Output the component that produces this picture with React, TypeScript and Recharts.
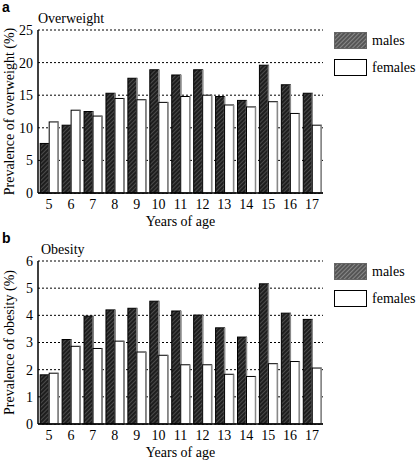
import React from 'react';
import { BarChart, Bar, XAxis, YAxis, CartesianGrid, Label } from 'recharts';

const ages = ['5', '6', '7', '8', '9', '10', '11', '12', '13', '14', '15', '16', '17'];

const overweightMales = [7.6, 10.4, 12.5, 15.3, 17.6, 18.9, 18.1, 18.9, 14.8, 14.2, 19.6, 16.6, 15.3];
const overweightFemales = [10.9, 12.7, 11.8, 14.5, 14.3, 13.9, 14.8, 15.0, 13.5, 13.2, 14.0, 12.2, 10.4];

const obesityMales = [1.81, 3.11, 3.97, 4.2, 4.26, 4.52, 4.16, 4.01, 3.54, 3.2, 5.16, 4.08, 3.85];
const obesityFemales = [1.87, 2.86, 2.78, 3.05, 2.65, 2.53, 2.18, 2.18, 1.83, 1.75, 2.22, 2.3, 2.06];

const overweightTicks = [0, 5, 10, 15, 20, 25];
const obesityTicks = [0, 1, 2, 3, 4, 5, 6];

const serif = "'Liberation Serif', 'DejaVu Serif', serif";

const build = (m: number[], f: number[]) =>
  ages.map((age, i) => ({ age, males: m[i], females: f[i] }));

const overweightData = build(overweightMales, overweightFemales);
const obesityData = build(obesityMales, obesityFemales);

// bar with black outline and a grey edge on the right
const BarShape = (props: any) => {
  const { x, y, width, height, fill } = props;
  if (!height || height <= 0) return null;
  return (
    <g>
      <rect x={x} y={y} width={width} height={height} fill={fill} stroke="#000" strokeWidth={1} />
      <line x1={x + width} y1={y} x2={x + width} y2={y + height} stroke="#888" strokeWidth={1.5} />
    </g>
  );
};

const LegendBox = ({ top }: { top: number }) => (
  <div style={{ position: 'absolute', left: 334, top, fontFamily: serif, fontSize: 14, whiteSpace: 'nowrap' }}>
    <div style={{ display: 'flex', alignItems: 'center', height: 17 }}>
      <svg width={33} height={17}>
        <rect x={0.5} y={0.5} width={32} height={16} fill="url(#hatchLegend)" stroke="#666" />
      </svg>
      <span style={{ marginLeft: 5 }}>males</span>
    </div>
    <div style={{ display: 'flex', alignItems: 'center', height: 17, marginTop: 10 }}>
      <svg width={33} height={17}>
        <rect x={0.5} y={0.5} width={32} height={16} fill="#fff" stroke="#000" />
      </svg>
      <span style={{ marginLeft: 5 }}>females</span>
    </div>
  </div>
);

const Panel = ({
  data,
  ticks,
  max,
  yLabel,
  title,
  letter,
  top,
  titleX,
}: {
  data: any[];
  ticks: number[];
  max: number;
  yLabel: string;
  title: string;
  letter: string;
  top: number;
  titleX: number;
}) => (
  <div style={{ position: 'absolute', left: 0, top, width: 417, height: 231 }}>
    <div
      style={{
        position: 'absolute',
        left: 2,
        top: 0,
        lineHeight: '14px',
        fontFamily: "'Liberation Sans', Arial, sans-serif",
        fontWeight: 'bold',
        fontSize: 14,
      }}
    >
      {letter}
    </div>
    <div style={{ position: 'absolute', left: titleX, top: 11, fontFamily: serif, fontSize: 14 }}>{title}</div>
    <BarChart
      width={417}
      height={231}
      data={data}
      margin={{ top: 30, right: 94, bottom: 8, left: 0 }}
      barCategoryGap="10%"
      barGap={0}
    >
      <defs>
        <pattern id={`hatch${letter}`} width={3} height={3} patternUnits="userSpaceOnUse" patternTransform="rotate(45)">
          <rect width={3} height={3} fill="#1e1e1e" />
          <line x1={0} y1={0} x2={0} y2={3} stroke="#777" strokeWidth={1} />
        </pattern>
      </defs>
      <CartesianGrid vertical={false} stroke="#000" strokeDasharray="2 2" />
      <XAxis
        dataKey="age"
        height={30}
        axisLine={{ stroke: '#000', strokeWidth: 1.5 }}
        tickLine={false}
        tickMargin={0}
        interval={0}
        tick={{ fill: '#000', fontSize: 14, fontFamily: serif }}
      >
        <Label
          value="Years of age"
          position="insideBottom"
          offset={-3}
          style={{ fill: '#000', fontSize: 14, fontFamily: serif }}
        />
      </XAxis>
      <YAxis
        width={38}
        domain={[0, max]}
        ticks={ticks}
        interval={0}
        axisLine={{ stroke: '#000', strokeWidth: 1.5 }}
        tickLine={false}
        tickSize={0}
        tickMargin={5}
        tick={{ fill: '#000', fontSize: 14, fontFamily: serif }}
      >
        <Label
          content={(p: any) => {
            const vb = p.viewBox;
            const cx = 9;
            const cy = vb.y + vb.height / 2;
            return (
              <text
                x={cx}
                y={cy}
                transform={`rotate(-90 ${cx} ${cy})`}
                textAnchor="middle"
                dominantBaseline="central"
                style={{ fill: '#000', fontSize: 14, fontFamily: serif }}
              >
                {yLabel}
              </text>
            );
          }}
        />
      </YAxis>
      <Bar dataKey="males" fill={`url(#hatch${letter})`} shape={BarShape} isAnimationActive={false} />
      <Bar dataKey="females" fill="#fff" shape={BarShape} isAnimationActive={false} />
    </BarChart>
    <LegendBox top={32} />
  </div>
);

export default function App() {
  return (
    <div style={{ position: 'absolute', left: 0, top: 0, width: 417, height: 462, background: '#fff' }}>
      <svg width={0} height={0} style={{ position: 'absolute' }}>
        <defs>
          <pattern id="hatchLegend" width={3} height={3} patternUnits="userSpaceOnUse" patternTransform="rotate(45)">
            <rect width={3} height={3} fill="#555" />
            <line x1={0} y1={0} x2={0} y2={3} stroke="#bbb" strokeWidth={1} />
          </pattern>
        </defs>
      </svg>
      <Panel
        data={overweightData}
        ticks={overweightTicks}
        max={25}
        yLabel="Prevalence of overweight (%)"
        title="Overweight"
        letter="a"
        top={0}
        titleX={38}
      />
      <Panel
        data={obesityData}
        ticks={obesityTicks}
        max={6}
        yLabel="Prevalence of obesity (%)"
        title="Obesity"
        letter="b"
        top={231}
        titleX={41}
      />
    </div>
  );
}
